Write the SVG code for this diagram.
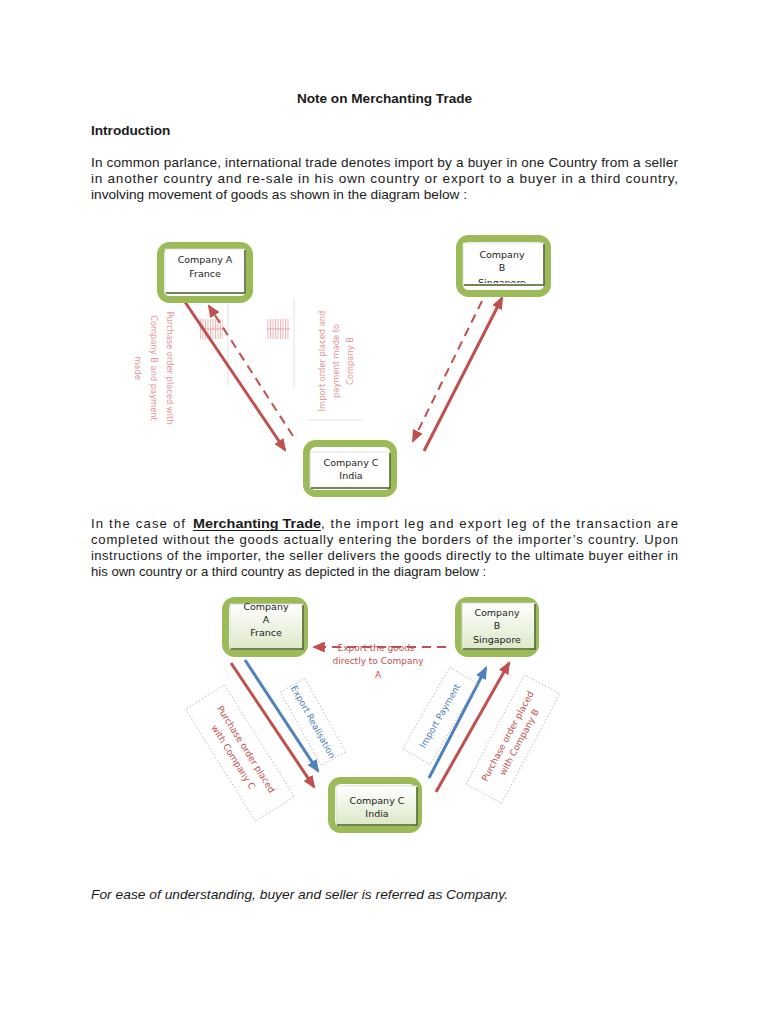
<svg xmlns="http://www.w3.org/2000/svg" width="768" height="1024" viewBox="0 0 768 1024">
<style>
.body{font-family:"Liberation Sans",Arial,sans-serif;font-size:13.6px;fill:#1a1a1a}
.p2{font-size:13.1px}
.bold{font-weight:bold}
.ital{font-style:italic}
.node{font-family:"DejaVu Sans",Verdana,sans-serif;font-size:9.5px;fill:#222;text-anchor:middle}
.ring{fill:#ffffff;stroke:#9bbb59;stroke-width:7}
.inner{fill:#ffffff;stroke:#d8d8d8;stroke-width:0.8}
.inner2{fill:url(#g2);stroke:#d8d8d8;stroke-width:0.8}
.shadow{stroke:#4f6228;stroke-width:1.5;fill:none}
.red{stroke:#c0504d;stroke-width:3;fill:none}
.redd{stroke:#c0504d;stroke-width:2;fill:none;stroke-dasharray:9 6}
.blue{stroke:#4f81bd;stroke-width:3;fill:none}
.faint{font-family:"DejaVu Sans",Verdana,sans-serif;font-size:8.3px;fill:#e39494;text-anchor:middle}
.lbl{font-family:"DejaVu Sans",Verdana,sans-serif;font-size:9px;text-anchor:middle}
.box{fill:none;stroke:#b0b0b0;stroke-width:0.8;stroke-dasharray:1.5 2}
.gl{stroke:#e2e2e2;stroke-width:1}
</style>
<defs>
<linearGradient id="g2" x1="0" y1="0" x2="0" y2="1">
<stop offset="0" stop-color="#ffffff"/>
<stop offset="1" stop-color="#dde8c8"/>
</linearGradient>
<marker id="ar" viewBox="0 0 12 10" refX="10" refY="5" markerWidth="13" markerHeight="11" markerUnits="userSpaceOnUse" orient="auto">
<path d="M0,0 L12,5 L0,10 z" fill="#c0504d"/>
</marker>
<marker id="ab" viewBox="0 0 12 10" refX="10" refY="5" markerWidth="13" markerHeight="11" markerUnits="userSpaceOnUse" orient="auto">
<path d="M0,0 L12,5 L0,10 z" fill="#4f81bd"/>
</marker>
<pattern id="hatch" width="2.5" height="4" patternUnits="userSpaceOnUse">
<rect x="0" y="0" width="1" height="4" fill="#e7a3a3"/>
</pattern>
<clipPath id="clipB"><rect x="463" y="243" width="81" height="40"/></clipPath>
</defs>
<rect x="0" y="0" width="768" height="1024" fill="#ffffff"/>

<g id="text">
<text class="body bold" x="384.5" y="103" text-anchor="middle" font-size="13.9">Note on Merchanting Trade</text>
<text class="body bold" x="91" y="135" font-size="13.9">Introduction</text>
<text class="body" x="91" y="167" textLength="587" lengthAdjust="spacing">In common parlance, international trade denotes import by a buyer in one Country from a seller</text>
<text class="body" x="91" y="183" textLength="587" lengthAdjust="spacing">in another country and re-sale in his own country or export to a buyer in a third country,</text>
<text class="body" x="91" y="199" textLength="376" lengthAdjust="spacingAndGlyphs">involving movement of goods as shown in the diagram below :</text>
<text class="body p2" x="91" y="528" textLength="94" lengthAdjust="spacing">In the case of</text>
<text class="body p2 bold" x="193" y="528" textLength="128" lengthAdjust="spacingAndGlyphs">Merchanting Trade</text>
<line x1="193" y1="530.5" x2="321" y2="530.5" stroke="#1a1a1a" stroke-width="1.2"/>
<text class="body p2" x="321" y="528" textLength="357" lengthAdjust="spacing">, the import leg and export leg of the transaction are</text>
<text class="body p2" x="91" y="544" textLength="587" lengthAdjust="spacing">completed without the goods actually entering the borders of the importer’s country.  Upon</text>
<text class="body p2" x="91" y="560" textLength="587" lengthAdjust="spacing">instructions of the importer, the seller delivers the goods directly to the ultimate buyer either in</text>
<text class="body p2" x="91" y="576">his own country or a third country as depicted in the diagram below :</text>
<text class="body ital" x="91" y="899" textLength="417" lengthAdjust="spacingAndGlyphs">For ease of understanding, buyer and seller is referred as Company.</text>
</g>

<g id="top-decor">
<line class="gl" x1="228" y1="298" x2="228" y2="385"/>
<line class="gl" x1="294" y1="298" x2="294" y2="388"/>
<line class="gl" x1="307" y1="420" x2="362" y2="420"/>
<rect x="200" y="319" width="23" height="20" fill="url(#hatch)" opacity="0.8"/>
<line x1="200" y1="329" x2="223" y2="329" stroke="#e7a3a3" stroke-width="1"/>
<rect x="267" y="319" width="23" height="20" fill="url(#hatch)" opacity="0.8"/>
<line x1="267" y1="329" x2="290" y2="329" stroke="#e7a3a3" stroke-width="1"/>
<text class="faint" transform="translate(167,368) rotate(90)"><tspan x="0" y="0">Purchase order placed with</tspan><tspan x="0" y="16">Company B and payment</tspan><tspan x="0" y="32">made</tspan></text>
<text class="faint" font-size="8" transform="translate(325,361) rotate(-90)"><tspan x="0" y="0">Import order placed and</tspan><tspan x="0" y="14">payment made to</tspan><tspan x="0" y="28">Company B</tspan></text>
</g>

<g id="connectors">
<line class="red" x1="183" y1="299" x2="285" y2="450" marker-end="url(#ar)"/>
<line class="redd" x1="293" y1="436" x2="209" y2="306" marker-end="url(#ar)"/>
<line class="red" x1="424" y1="451" x2="502" y2="298" marker-end="url(#ar)"/>
<line class="redd" x1="482" y1="301" x2="413" y2="441" marker-end="url(#ar)"/>

<line class="redd" x1="446" y1="647" x2="314" y2="647" marker-end="url(#ar)"/>
<line class="red" x1="231" y1="663" x2="314" y2="787" marker-end="url(#ar)"/>
<line class="blue" x1="245" y1="660" x2="318" y2="771" marker-end="url(#ab)"/>
<line class="blue" x1="429" y1="778" x2="486" y2="668" marker-end="url(#ab)"/>
<line class="red" x1="436" y1="792" x2="509" y2="663" marker-end="url(#ar)"/>
</g>

<g id="labels">
<text class="lbl" fill="#c0504d" font-size="9.5" x="376" y="651">Export the goods</text>
<text class="lbl" fill="#c0504d" font-size="9.5" x="378" y="664">directly to Company</text>
<text class="lbl" fill="#c0504d" font-size="9.5" x="378" y="678">A</text>
<g transform="translate(240,753) rotate(58)">
<rect class="box" x="-66" y="-23" width="132" height="46"/>
<text class="lbl" fill="#c0504d" font-size="9.5" x="0" y="-4">Purchase order placed</text>
<text class="lbl" fill="#c0504d" font-size="9.5" x="0" y="11">with Company C</text>
</g>
<g transform="translate(313,722) rotate(61)">
<rect class="box" x="-42" y="-14" width="84" height="28"/>
<text class="lbl" fill="#4f81bd" font-size="8" x="0" y="3">Export Realisation</text>
</g>
<g transform="translate(440,716) rotate(-60)">
<rect class="box" x="-47" y="-16" width="94" height="32"/>
<text class="lbl" fill="#4f81bd" font-size="9" x="0" y="3">Import  Payment</text>
</g>
<g transform="translate(513,739) rotate(-62)">
<rect class="box" x="-62" y="-20" width="124" height="40"/>
<text class="lbl" fill="#c0504d" font-size="9" x="0" y="-3">Purchase order placed</text>
<text class="lbl" fill="#c0504d" font-size="9" x="0" y="10">with Company B</text>
</g>
</g>

<g id="nodeA1">
<rect class="ring" x="160.5" y="245.5" width="89" height="54" rx="9"/>
<rect class="inner" x="165" y="249" width="80" height="44"/>
<polyline class="shadow" points="166,293 245,293 245,250"/>
<text class="node" x="205" y="263">Company A</text>
<text class="node" x="205" y="277">France</text>
</g>
<g id="nodeB1">
<rect class="ring" x="459.5" y="238.5" width="88" height="55" rx="9"/>
<rect class="inner" x="463" y="243" width="81" height="42"/>
<polyline class="shadow" points="464,285 544,285 544,244"/>
<g clip-path="url(#clipB)">
<text class="node" x="502" y="258">Company</text>
<text class="node" x="502" y="271">B</text>
<text class="node" x="502" y="285.5">Singapore</text>
</g>
</g>
<g id="nodeC1">
<rect class="ring" x="306.5" y="443.5" width="87" height="50" rx="9"/>
<rect class="inner" x="310" y="452" width="80" height="36"/>
<polyline class="shadow" points="311,488 390,488 390,453"/>
<text class="node" x="351" y="466">Company C</text>
<text class="node" x="351" y="479">India</text>
</g>

<g id="nodeA2">
<rect class="ring" x="225.5" y="600.5" width="79" height="53" rx="9"/>
<rect class="inner2" x="230" y="604" width="73" height="45"/>
<polyline class="shadow" points="231,649 303,649 303,605"/>
<text class="node" x="266" y="610">Company</text>
<text class="node" x="266" y="623">A</text>
<text class="node" x="266" y="636">France</text>
</g>
<g id="nodeB2">
<rect class="ring" x="458.5" y="600.5" width="77" height="53" rx="9"/>
<rect class="inner2" x="462" y="603" width="73" height="46"/>
<polyline class="shadow" points="463,649 535,649 535,604"/>
<text class="node" x="497" y="616">Company</text>
<text class="node" x="497" y="629">B</text>
<text class="node" x="497" y="643">Singapore</text>
</g>
<g id="nodeC2">
<rect class="ring" x="331.5" y="780.5" width="87" height="49" rx="9"/>
<rect class="inner2" x="336" y="786" width="81" height="39"/>
<polyline class="shadow" points="337,825 417,825 417,787"/>
<text class="node" x="377" y="804">Company C</text>
<text class="node" x="377" y="817">India</text>
</g>
</svg>
